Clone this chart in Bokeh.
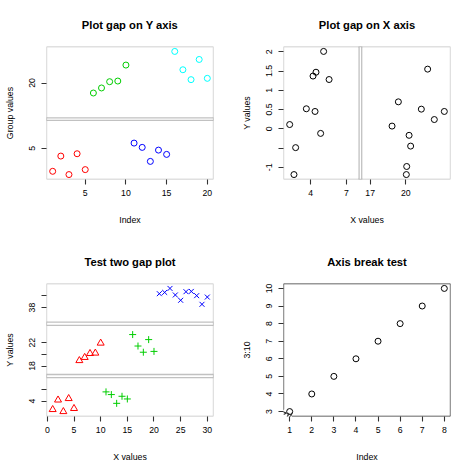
import numpy as np
from bokeh.plotting import figure
from bokeh.layouts import column, row
from bokeh.models import Range1d, FixedTicker, BoxAnnotation, Arrow, ColumnDataSource
from bokeh.embed import file_html
from bokeh.resources import INLINE

FONT = "Liberation Sans"
RED, GREEN, BLUE, CYAN = "#FF0000", "#00CD00", "#0000FF", "#00FFFF"
BOX = "#333333"
BOX_W = 1.3

# ---------------- data ----------------
# Panel 1: Plot gap on Y axis
group_index = list(range(1, 21))
group_values = [2.55, 4.18, 2.20, 4.43, 2.73,
                18.93, 19.47, 20.14, 20.21, 21.92,
                5.57, 5.11, 3.61, 4.82, 4.36,
                23.38, 21.42, 20.36, 22.52, 20.50]
group_colors = [RED] * 5 + [GREEN] * 5 + [BLUE] * 5 + [CYAN] * 5
p1_gaps = [(8, 16)]
p1_xticks = [5, 10, 15, 20]
p1_yticks = [5, 20]

# Panel 2: Plot gap on X axis
xgap_x = [2.24, 2.74, 2.60, 3.64, 4.20, 4.45, 4.37, 5.09, 4.84, 5.55,
          18.84, 19.37, 20.07, 20.04, 20.27, 20.40, 21.30, 21.83, 22.39, 23.23]
xgap_y = [0.11, -0.49, -1.19, 0.52, 1.37, 1.47, 0.45, 2.01, -0.12, 1.28,
          0.07, 0.70, -0.98, -1.19, -0.17, -0.45, 0.51, 1.55, 0.24, 0.45]
p2_gaps = [(8, 16)]
p2_xticks = [4, 7, 17, 20]
p2_yticks = [-1, -0.5, 0, 0.5, 1, 1.5, 2]
p2_ylabels = ["-1", "", "0", "0.5", "1", "1.5", "2"]

# Panel 3: Test two gap plot
two_gap_x = list(range(1, 31))
two_gap_y = group_values + [40.38, 40.60, 41.28, 40.16, 39.25,
                            40.72, 40.77, 40.04, 38.56, 39.80]
two_gap_colors = [RED] * 10 + [GREEN] * 10 + [BLUE] * 10
two_gap_markers = ["triangle"] * 10 + ["cross"] * 10 + ["x"] * 10
p3_gaps = [(8, 16), (25, 35)]
p3_xticks = [0, 5, 10, 15, 20, 25, 30]
p3_yticks = [4, 6, 18, 20, 22, 38, 40]
p3_ylabels = ["4", "", "18", "", "22", "38", ""]

# Panel 4: Axis break test
break_index = list(range(1, 9))
break_values = list(range(3, 11))


# ---------------- helpers ----------------
def gap_map(vals, gaps):
    out = []
    for v in vals:
        m = v
        for lo, hi in gaps:
            if v >= hi:
                m -= (hi - lo)
        out.append(m)
    return out


def pad(vals):
    lo, hi = min(vals), max(vals)
    d = 0.04 * (hi - lo)
    return lo - d, hi + d


def make_fig(title, xlabel, ylabel, xr, yr):
    p = figure(width=237, height=237, x_range=Range1d(*xr), y_range=Range1d(*yr),
               output_backend="svg", toolbar_location=None,
               min_border_left=46, min_border_right=24,
               min_border_top=46, min_border_bottom=58)
    p.title.text = title
    p.title.text_font = FONT
    p.title.text_font_size = "11.2px"
    p.title.text_font_style = "bold"
    p.title.text_color = "black"
    p.title.align = "center"
    p.title.standoff = 32
    p.grid.visible = False
    p.outline_line_color = None
    p.background_fill_color = "white"
    p.border_fill_color = "white"
    for ax in (p.xaxis[0], p.yaxis[0]):
        ax.axis_line_color = None
        ax.major_tick_in = 0
        ax.major_tick_out = 5
        ax.minor_tick_in = 0
        ax.minor_tick_out = 0
        ax.major_tick_line_color = BOX
        ax.major_tick_line_width = 1.1
        ax.major_label_text_font = FONT
        ax.major_label_text_font_size = "8.7px"
        ax.major_label_text_color = "black"
        ax.axis_label_text_font = FONT
        ax.axis_label_text_font_size = "8.8px"
        ax.axis_label_text_font_style = "normal"
        ax.axis_label_text_color = "black"
    p.xaxis.axis_label = xlabel
    p.yaxis.axis_label = ylabel
    p.yaxis.major_label_orientation = "vertical"
    p.xaxis.major_label_standoff = 5
    p.yaxis.major_label_standoff = 6
    p.xaxis.axis_label_standoff = 16
    p.yaxis.axis_label_standoff = 12
    return p


def add_box(p, xr, yr):
    p.add_layout(BoxAnnotation(left=xr[0], right=xr[1], bottom=yr[0], top=yr[1],
                               fill_color=None, line_color=BOX, line_width=BOX_W))


def hband(p, xr, lo, hi):
    p.add_layout(BoxAnnotation(left=xr[0], right=xr[1], bottom=lo, top=hi,
                               fill_color="white", fill_alpha=1,
                               line_color=BOX, line_width=BOX_W))


def vband(p, yr, lo, hi):
    p.add_layout(BoxAnnotation(left=lo, right=hi, bottom=yr[0], top=yr[1],
                               fill_color="white", fill_alpha=1,
                               line_color=BOX, line_width=BOX_W))


# ---------------- panel 1 ----------------
y1 = gap_map(group_values, p1_gaps)
xr1, yr1 = pad(group_index), pad(y1)
p1 = make_fig("Plot gap on Y axis", "Index", "Group values", xr1, yr1)
add_box(p1, xr1, yr1)
hband(p1, xr1, 8.0, 8.27)
src1 = ColumnDataSource(dict(x=group_index, y=y1, c=group_colors))
p1.scatter("x", "y", source=src1, marker="circle", size=6, fill_color=None,
           line_color="c", line_width=1)
p1.xaxis.ticker = FixedTicker(ticks=p1_xticks)
yt1 = gap_map(p1_yticks, p1_gaps)
p1.yaxis.ticker = FixedTicker(ticks=yt1)
p1.yaxis.major_label_overrides = {m: str(t) for m, t in zip(yt1, p1_yticks)}

# ---------------- panel 2 ----------------
x2 = gap_map(xgap_x, p2_gaps)
xr2, yr2 = pad(x2), pad(xgap_y)
p2 = make_fig("Plot gap on X axis", "X values", "Y values", xr2, yr2)
add_box(p2, xr2, yr2)
vband(p2, yr2, 8.07, 8.29)
p2.scatter(x2, xgap_y, marker="circle", size=6, fill_color=None,
           line_color="black", line_width=1)
xt2 = gap_map(p2_xticks, p2_gaps)
p2.xaxis.ticker = FixedTicker(ticks=xt2)
p2.xaxis.major_label_overrides = {m: str(t) for m, t in zip(xt2, p2_xticks)}
p2.yaxis.ticker = FixedTicker(ticks=p2_yticks)
p2.yaxis.major_label_overrides = {t: l for t, l in zip(p2_yticks, p2_ylabels)}

# ---------------- panel 3 ----------------
y3 = gap_map(two_gap_y, p3_gaps)
xr3, yr3 = pad(two_gap_x), pad(y3)
p3 = make_fig("Test two gap plot", "X values", "Y values", xr3, yr3)
add_box(p3, xr3, yr3)
hband(p3, xr3, 8.0, 8.55)
hband(p3, xr3, 16.95, 17.5)
src3 = ColumnDataSource(dict(x=two_gap_x, y=y3, c=two_gap_colors, m=two_gap_markers))
p3.scatter("x", "y", source=src3, marker="m", size=7, fill_color=None,
           line_color="c", line_width=1)
p3.xaxis.ticker = FixedTicker(ticks=p3_xticks)
yt3 = gap_map(p3_yticks, p3_gaps)
p3.yaxis.ticker = FixedTicker(ticks=yt3)
p3.yaxis.major_label_overrides = {m: l for m, l in zip(yt3, p3_ylabels)}

# ---------------- panel 4 ----------------
xr4, yr4 = pad(break_index), pad(break_values)
p4 = make_fig("Axis break test", "Index", "3:10", xr4, yr4)
dx = (xr4[1] - xr4[0]) / 167.0
dy = (yr4[1] - yr4[0]) / 133.0
x0, x1 = xr4
y0, y1_ = yr4


def seg(p, xa, ya, xb, yb):
    p.add_layout(Arrow(end=None, x_start=xa, y_start=ya, x_end=xb, y_end=yb,
                       line_color=BOX, line_width=BOX_W))


seg(p4, x0, y1_, x1, y1_)
seg(p4, x1, y1_, x1, y0)
seg(p4, x0 + 8.5 * dx, y0, x1, y0)
seg(p4, x0, y1_, x0, y0 + 7 * dy)
# zigzag break on the y axis
seg(p4, x0, y0 + 7 * dy, x0 - 3 * dx, y0 + 5.5 * dy)
seg(p4, x0 - 3 * dx, y0 + 5.5 * dy, x0 + 3 * dx, y0 + 3.5 * dy)
seg(p4, x0 + 3 * dx, y0 + 3.5 * dy, x0, y0 + 2 * dy)
# slash break on the x axis
seg(p4, x0 + 2.5 * dx, y0 - 3.5 * dy, x0 + 5.5 * dx, y0 + 3.5 * dy)
seg(p4, x0 + 5.5 * dx, y0 - 3.5 * dy, x0 + 8.5 * dx, y0 + 3.5 * dy)
p4.scatter(break_index, break_values, marker="circle", size=6, fill_color=None,
           line_color="black", line_width=1)
p4.xaxis.ticker = FixedTicker(ticks=break_index)
p4.yaxis.ticker = FixedTicker(ticks=break_values)

layout = column(row(p1, p2), row(p3, p4))
open("out.html", "w").write(file_html(layout, INLINE))
